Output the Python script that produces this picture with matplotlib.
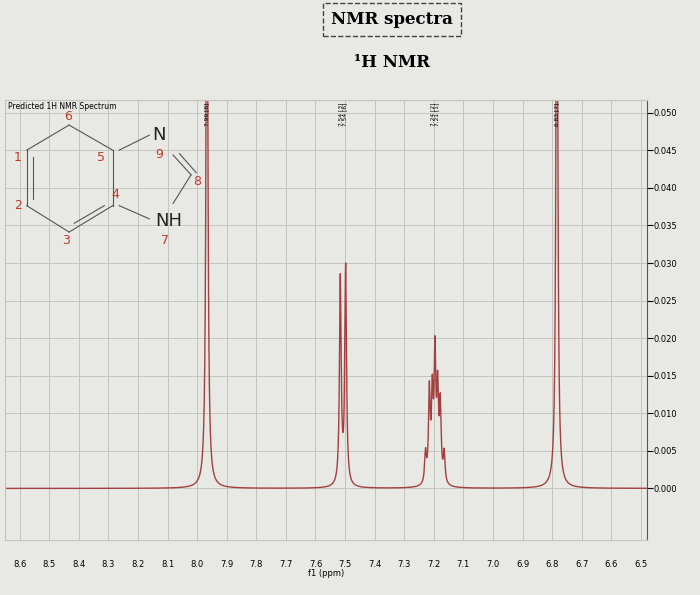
import numpy as np
import matplotlib.pyplot as plt

# peak positions (ppm, as they sit on the drawn axis) and heights
peak_ppm = [7.967, 7.516, 7.498, 7.228, 7.215, 7.205, 7.196, 7.187, 7.178, 7.165, 6.784]
peak_height = [0.09, 0.0275, 0.0290, 0.0040, 0.0120, 0.0110, 0.0165, 0.0115, 0.0100, 0.0040, 0.09]
peak_labels = [(7.967, "7.99 [8]"), (7.507, "7.54 [3]\n7.54 [6]"), (7.196, "7.24 [2]\n7.21 [1]"), (6.784, "6.83 [7]")]
x_ticks = [8.6, 8.5, 8.4, 8.3, 8.2, 8.1, 8.0, 7.9, 7.8, 7.7, 7.6, 7.5, 7.4, 7.3, 7.2, 7.1, 7.0, 6.9, 6.8, 6.7, 6.6, 6.5]
y_ticks = [0.000, 0.005, 0.010, 0.015, 0.020, 0.025, 0.030, 0.035, 0.040, 0.045, 0.050]

bg = "#e8e8e4"
fig = plt.figure(figsize=(7, 5.95), dpi=100, facecolor=bg)
ax = fig.add_axes([0.007, 0.092, 0.917, 0.740], facecolor=bg)

ppm = np.linspace(6.4, 8.7, 40000)
w = 0.0035
spec = np.zeros_like(ppm)
for p, h in zip(peak_ppm, peak_height):
    spec += h * w**2 / ((ppm - p) ** 2 + w**2)
ax.plot(ppm, spec, color="#a3403f", lw=1.0)

ax.set_xlim(8.65, 6.48)
ax.set_ylim(-0.0069, 0.0517)
ax.set_xticks(x_ticks)
ax.set_xticklabels([f"{t:.1f}" for t in x_ticks], fontsize=6)
ax.yaxis.tick_right()
ax.set_yticks(y_ticks)
ax.set_yticklabels([f"{t:.3f}" for t in y_ticks], fontsize=6)
ax.tick_params(axis="y", direction="out", length=4, pad=1)
ax.tick_params(axis="x", length=0, pad=14)
ax.grid(True, color="#c4c4bf", lw=0.7)
for s in ["top", "left", "bottom"]:
    ax.spines[s].set_color("#c4c4bf")
ax.spines["right"].set_color("#555555")
ax.set_xlabel("f1 (ppm)", fontsize=6, labelpad=0)

ax.text(0.005, 0.995, "Predicted 1H NMR Spectrum", transform=ax.transAxes, fontsize=5.5,
        va="top", ha="left")
for x, lab in peak_labels:
    ax.text(x, 0.0514, lab, rotation=90, fontsize=4.2, ha="center", va="top", linespacing=0.9)

# structure sketch (axes fraction coords)
tr = ax.transAxes
bonds = [((0.034, 0.886), (0.10, 0.943)), ((0.10, 0.943), (0.168, 0.886)), ((0.168, 0.886), (0.168, 0.76)),
         ((0.168, 0.76), (0.10, 0.70)), ((0.10, 0.70), (0.034, 0.76)), ((0.034, 0.76), (0.034, 0.886)),
         ((0.178, 0.886), (0.225, 0.92)), ((0.178, 0.76), (0.225, 0.73)), ((0.262, 0.875), (0.29, 0.83)),
         ((0.29, 0.83), (0.262, 0.765))]
for (x0, y0), (x1, y1) in bonds:
    ax.plot([x0, x1], [y0, y1], transform=tr, color="#555555", lw=0.8)
ax.plot([0.044, 0.044], [0.775, 0.87], transform=tr, color="#555555", lw=0.8)
ax.plot([0.108, 0.155], [0.72, 0.76], transform=tr, color="#555555", lw=0.8)
ax.plot([0.272, 0.298], [0.878, 0.835], transform=tr, color="#555555", lw=0.8)
atoms = [(0.098, 0.962, "6", "#c0392b"), (0.020, 0.87, "1", "#c0392b"), (0.020, 0.76, "2", "#c0392b"),
         (0.095, 0.68, "3", "#c0392b"), (0.172, 0.785, "4", "#c0392b"), (0.15, 0.87, "5", "#c0392b"),
         (0.24, 0.92, "N", "#222222"), (0.24, 0.875, "9", "#c0392b"), (0.30, 0.815, "8", "#c0392b"),
         (0.255, 0.725, "NH", "#222222"), (0.25, 0.68, "7", "#c0392b")]
for x, y, t, c in atoms:
    ax.text(x, y, t, transform=tr, color=c, fontsize=13 if c == "#222222" else 9, ha="center", va="center")

fig.text(0.56, 0.967, "NMR spectra", fontsize=12, fontweight="bold", family="DejaVu Serif", ha="center", va="center",
         bbox=dict(boxstyle="square,pad=0.5", fc="none", ec="#444444", ls="--"))
fig.text(0.56, 0.895, "¹H NMR", fontsize=12, fontweight="bold", family="DejaVu Serif", ha="center", va="center")

fig.savefig("out.png", dpi=100, facecolor=bg)
